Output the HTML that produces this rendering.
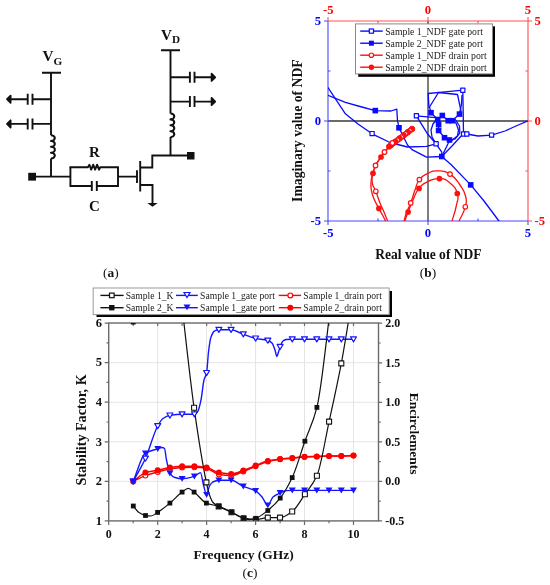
<!DOCTYPE html><html><head><meta charset="utf-8"><title>Figure</title><style>html,body{margin:0;padding:0;background:#fff;}svg{display:block;}text{font-family:'Liberation Serif','Times New Roman',serif;}</style></head><body>
<svg width="550" height="585" viewBox="0 0 550 585">
<rect width="550" height="585" fill="#fff"/>
<g fill="none" stroke="#111" stroke-width="1.9" stroke-linecap="butt">
<path d="M42,72.7 H61 M51,72.7 V135.2 M51,158.5 V176.6"/>
<path d="M51,99.2 H32.5 M27.7,99.2 H9"/>
<path d="M27.7,93.7 V104.7 M32.5,93.7 V104.7"/>
<path d="M51,123.9 H32.5 M27.7,123.9 H9"/>
<path d="M27.7,118.4 V129.4 M32.5,118.4 V129.4"/>
<path d="M161,50.3 H180 M170.5,50.3 V113.5 M170.5,137.1 V155.5"/>
<path d="M170.5,77.3 H189.9 M194.5,77.3 H212"/>
<path d="M189.9,71.8 V82.8 M194.5,71.8 V82.8"/>
<path d="M170.5,101.6 H189.9 M194.5,101.6 H212"/>
<path d="M189.9,96.1 V107.1 M194.5,96.1 V107.1"/>
<path d="M36,176.6 H70.4 M70.4,167.2 V186 H118 V167.2 M118,176.6 H137"/>
<path d="M137,170.3 V183" />
<path d="M140.2,161 V191.5" />
<path d="M140.2,167.5 H152.3 V155.5 H187 M140.2,185 H152.5 V203"/>
</g>
<path d="M51.0,135.2 A3.8,2.9 0 0 1 51.0,141.0 A3.8,2.9 0 0 1 51.0,146.8 A3.8,2.9 0 0 1 51.0,152.7 A3.8,2.9 0 0 1 51.0,158.5" fill="none" stroke="#111" stroke-width="2.1" stroke-linejoin="round"/>
<path d="M170.5,113.5 A3.7,2.9 0 0 1 170.5,119.4 A3.7,2.9 0 0 1 170.5,125.3 A3.7,2.9 0 0 1 170.5,131.2 A3.7,2.9 0 0 1 170.5,137.1" fill="none" stroke="#111" stroke-width="2.1" stroke-linejoin="round"/>
<path d="M69.5,167.2 H87.9 L89.4,164.7 L91.2,169.7 L93.2,164.7 L95.1,169.7 L97.1,164.7 L99,169.7 L100.3,167.2 H118.9" fill="none" stroke="#111" stroke-width="1.9" stroke-linejoin="round"/>
<rect x="92.2" y="183" width="4.2" height="6" fill="#fff"/>
<path d="M91.8,181 V191 M96.8,181 V191" stroke="#111" stroke-width="1.9"/>
<path d="M7,99.2 L10.6,95.6 L10.6,102.8 Z" fill="#111" stroke="#111" stroke-width="1.8" stroke-linejoin="round"/>
<path d="M7,123.9 L10.6,120.3 L10.6,127.5 Z" fill="#111" stroke="#111" stroke-width="1.8" stroke-linejoin="round"/>
<path d="M215.2,77.3 L211.6,73.7 L211.6,80.9 Z" fill="#111" stroke="#111" stroke-width="1.8" stroke-linejoin="round"/>
<path d="M215.2,101.6 L211.6,98.0 L211.6,105.2 Z" fill="#111" stroke="#111" stroke-width="1.8" stroke-linejoin="round"/>
<path d="M147.3,203 H157.7 L152.5,206.8 Z" fill="#111"/>
<rect x="28.2" y="172.8" width="7.8" height="7.8" fill="#111"/>
<rect x="187" y="152" width="7.5" height="7.5" fill="#111"/>
<text x="42.5" y="61.3" font-size="15.2" font-weight="bold" fill="#111">V<tspan font-size="11.2" dy="3.6">G</tspan></text>
<text x="161" y="39.5" font-size="15.2" font-weight="bold" fill="#111">V<tspan font-size="11.2" dy="3.6">D</tspan></text>
<text x="94.5" y="157.3" font-size="15" font-weight="bold" fill="#111" text-anchor="middle">R</text>
<text x="94.5" y="211.3" font-size="15" font-weight="bold" fill="#111" text-anchor="middle">C</text>
<text x="110.9" y="277.2" font-size="13.4" font-weight="bold" fill="#111" text-anchor="middle"><tspan font-weight="normal">(</tspan>a<tspan font-weight="normal">)</tspan></text>
<defs><clipPath id="cb"><rect x="328.0" y="21.0" width="200.0" height="200.0"/></clipPath></defs>
<path d="M328.0,121.0 H528.0 M428.0,21.0 V221.0" stroke="#3a3a3a" stroke-width="1.3" fill="none"/>
<path d="M328.0,21.0 V221.0 H528.0" stroke="#4848ff" stroke-width="1.1" fill="none"/>
<path d="M328.0,21.0 H528.0 V221.0" stroke="#ff5050" stroke-width="1.1" fill="none"/>
<path d="M328.0,221.0 h-4 M328.0,221.0 v4 M328.0,121.0 h-4 M428.0,221.0 v4 M328.0,21.0 h-4 M528.0,221.0 v4 M328.0,171.0 h2.5 M378.0,221.0 v-2.5 M328.0,71.0 h2.5 M478.0,221.0 v-2.5" stroke="#4848ff" stroke-width="1.1" fill="none"/>
<path d="M528.0,221.0 h4 M328.0,21.0 v-4 M528.0,121.0 h4 M428.0,21.0 v-4 M528.0,21.0 h4 M528.0,21.0 v-4 M528.0,171.0 h-2.5 M378.0,21.0 v2.5 M528.0,71.0 h-2.5 M478.0,21.0 v2.5" stroke="#ff5050" stroke-width="1.1" fill="none"/>
<g font-size="12.6" font-weight="bold" fill="#0000ff">
<text x="321.0" y="24.6" text-anchor="end">5</text>
<text x="321.0" y="124.6" text-anchor="end">0</text>
<text x="321.0" y="224.6" text-anchor="end">-5</text>
<text x="328.2" y="237.3" text-anchor="middle">-5</text>
<text x="428.0" y="237.3" text-anchor="middle">0</text>
<text x="528.0" y="237.3" text-anchor="middle">5</text>
</g><g font-size="12.6" font-weight="bold" fill="#ff0000">
<text x="534.6" y="24.6">5</text>
<text x="534.6" y="124.6">0</text>
<text x="534.6" y="224.6">-5</text>
<text x="328.2" y="13.8" text-anchor="middle">-5</text>
<text x="428.0" y="13.8" text-anchor="middle">0</text>
<text x="528.0" y="13.8" text-anchor="middle">5</text>
</g>
<text x="428.4" y="259" font-size="13.55" font-weight="bold" fill="#111" text-anchor="middle">Real value of NDF</text>
<text transform="translate(302.2,130.6) rotate(-90)" font-size="13.7" font-weight="bold" fill="#111" text-anchor="middle">Imaginary value of NDF</text>
<text x="428" y="277.2" font-size="13.4" font-weight="bold" fill="#111" text-anchor="middle"><tspan font-weight="normal">(</tspan>b<tspan font-weight="normal">)</tspan></text>
<g clip-path="url(#cb)" fill="none" stroke-linejoin="round">
<path d="M322.0,80.0 L328.0,87.7 L345.4,113.8 L358.0,124.0 L372.1,133.8 L390.0,142.5 L407.5,147.0 L426.5,146.4 L436.1,143.8" stroke="#0a0aff" stroke-width="1.3"/>
<path d="M416.4,115.8 L427.8,134.3 L436.1,143.8 L441.8,152.1 L441.8,156.5" stroke="#0a0aff" stroke-width="1.3"/>
<path d="M416.4,115.8 L435.5,117.7" stroke="#0a0aff" stroke-width="1.3"/>
<path d="M437.0,119.0 L433.0,124.0 L431.0,130.0 L432.0,137.0 L436.1,143.8" stroke="#0a0aff" stroke-width="1.3"/>
<path d="M429.0,108.0 L428.2,93.5 L445.0,91.8 L462.8,90.2 L463.2,112.0 L463.4,128.0 L463.6,134.0" stroke="#0a0aff" stroke-width="1.3"/>
<path d="M463.6,134.0 L466.8,134.0 L478.0,136.0 L491.6,135.1 L505.0,131.0 L516.0,126.0 L528.0,120.9" stroke="#0a0aff" stroke-width="1.3"/>
<path d="M441.8,156.5 L452.0,146.0 L460.9,136.2 L463.6,134.0" stroke="#0a0aff" stroke-width="1.3"/>
<path d="M322.0,93.0 L328.0,95.4 L345.4,102.4 L360.0,106.5 L375.3,110.6 L391.0,111.0 L396.8,109.2 L397.5,120.7 L399.0,127.8 L407.5,145.0 L412.0,149.6 L426.5,157.2 L441.8,156.5" stroke="#0a0aff" stroke-width="1.3"/>
<path d="M441.8,156.5 L450.7,164.2 L470.7,184.9 L484.0,201.0 L498.2,220.0 L503.0,226.0" stroke="#0a0aff" stroke-width="1.3"/>
<path d="M441.8,156.5 L448.2,143.2 L449.5,140.0 L444.5,137.7 L438.6,130.5 L438.6,124.5 L437.7,119.5 L431.0,112.7 L429.5,107.0 L438.5,92.5 L457.5,94.5 L461.0,111.0 L459.5,114.1 L452.3,120.7 L448.2,120.7 L442.3,115.5" stroke="#0a0aff" stroke-width="1.3"/>
<path d="M452.3,120.7 L456.0,123.0 L458.5,130.0 L457.5,136.0 L452.0,140.0 L449.5,140.0" stroke="#0a0aff" stroke-width="1.3"/>
<path d="M455.0,119.0 L459.5,126.0 L459.8,133.0 L455.0,139.0 L449.5,141.0" stroke="#0a0aff" stroke-width="1.3"/>
<path d="M459.5,114.1 L461.5,104.0 L462.0,95.0" stroke="#0a0aff" stroke-width="1.3"/>
<path d="M412.0,129.0 C410.1,130.2 409.0,130.7 405.0,133.5 C401.0,136.3 400.4,137.0 397.0,139.5 C393.6,142.0 395.6,139.7 392.3,143.0 C389.0,146.3 388.2,147.7 384.8,152.0 C381.4,156.3 381.9,155.4 379.5,159.0 C377.1,162.6 377.7,161.1 375.8,165.4 C373.9,169.7 373.4,170.0 372.5,175.0 C371.6,180.0 371.6,179.7 372.5,184.0 C373.4,188.3 373.8,186.2 375.8,191.3 C377.8,196.4 377.8,197.5 380.0,203.0 C382.2,208.5 381.9,206.9 384.0,212.0 C386.1,217.1 386.9,219.3 388.0,222.0" stroke="#ff1010" stroke-width="1.3"/>
<path d="M412.0,129.0 C410.1,130.2 409.0,130.7 405.0,133.5 C401.0,136.3 401.2,136.0 397.0,139.5 C392.8,143.0 393.5,142.0 389.3,146.6 C385.1,151.2 384.7,151.9 381.2,156.8 C377.7,161.7 378.2,160.6 376.0,165.0 C373.8,169.4 374.3,168.5 373.0,173.3 C371.7,178.1 371.1,177.2 371.0,183.0 C370.9,188.8 370.4,188.2 372.5,195.0 C374.6,201.8 376.2,203.1 378.9,208.4 C381.6,213.7 380.6,211.4 382.5,215.0 C384.4,218.6 385.1,220.1 386.0,222.0" stroke="#ff1010" stroke-width="1.3"/>
<path d="M403.5,224.0 C404.2,221.3 404.1,219.6 406.0,214.0 C407.9,208.4 408.3,209.3 410.7,202.9 C413.1,196.5 412.7,196.2 415.0,190.0 C417.3,183.8 415.9,184.1 419.4,179.6 C422.9,175.1 423.3,175.6 428.0,173.3 C432.7,171.0 431.3,170.7 437.2,170.9 C443.1,171.1 443.9,170.3 450.0,174.1 C456.1,177.9 455.9,179.2 460.0,185.0 C464.1,190.8 464.1,190.2 465.5,196.0 C466.9,201.8 467.0,200.1 465.3,206.8 C463.6,213.5 460.7,217.2 459.0,221.0" stroke="#ff1010" stroke-width="1.3"/>
<path d="M404.5,224.0 C404.8,222.7 404.5,222.2 405.5,219.0 C406.5,215.8 406.1,217.1 408.1,212.0 C410.1,206.9 410.1,206.3 413.0,200.0 C415.9,193.7 415.0,193.3 419.0,188.4 C423.0,183.5 422.6,184.1 428.0,181.5 C433.4,178.9 433.5,178.2 439.4,178.6 C445.3,179.0 445.2,179.0 450.0,183.0 C454.8,187.0 455.6,187.6 457.3,193.5 C459.0,199.4 458.0,197.4 456.5,205.0 C455.0,212.6 453.0,217.5 451.7,222.0" stroke="#ff1010" stroke-width="1.3"/>
<circle cx="412.0" cy="129.0" r="2.8" fill="#ff1010" stroke="#ff1010" stroke-width="1"/>
<circle cx="409.9" cy="130.6" r="2.2" fill="#fff" stroke="#ff1010" stroke-width="1.3"/>
<circle cx="407.8" cy="132.2" r="2.8" fill="#ff1010" stroke="#ff1010" stroke-width="1"/>
<circle cx="405.7" cy="133.8" r="2.2" fill="#fff" stroke="#ff1010" stroke-width="1.3"/>
<circle cx="403.6" cy="135.4" r="2.8" fill="#ff1010" stroke="#ff1010" stroke-width="1"/>
<circle cx="401.5" cy="137.0" r="2.2" fill="#fff" stroke="#ff1010" stroke-width="1.3"/>
<circle cx="399.5" cy="138.5" r="2.8" fill="#ff1010" stroke="#ff1010" stroke-width="1"/>
<circle cx="397.4" cy="140.1" r="2.2" fill="#fff" stroke="#ff1010" stroke-width="1.3"/>
<circle cx="395.3" cy="141.7" r="2.8" fill="#ff1010" stroke="#ff1010" stroke-width="1"/>
<circle cx="393.2" cy="143.3" r="2.2" fill="#fff" stroke="#ff1010" stroke-width="1.3"/>
<circle cx="391.1" cy="144.9" r="2.8" fill="#ff1010" stroke="#ff1010" stroke-width="1"/>
<circle cx="389.0" cy="146.5" r="2.2" fill="#fff" stroke="#ff1010" stroke-width="1.3"/>
<circle cx="392.3" cy="143.0" r="2.3" fill="#fff" stroke="#ff1010" stroke-width="1.2"/>
<circle cx="384.5" cy="152.0" r="2.3" fill="#fff" stroke="#ff1010" stroke-width="1.2"/>
<circle cx="375.5" cy="165.5" r="2.3" fill="#fff" stroke="#ff1010" stroke-width="1.2"/>
<circle cx="375.8" cy="191.3" r="2.3" fill="#fff" stroke="#ff1010" stroke-width="1.2"/>
<circle cx="410.7" cy="202.9" r="2.3" fill="#fff" stroke="#ff1010" stroke-width="1.2"/>
<circle cx="419.4" cy="179.6" r="2.3" fill="#fff" stroke="#ff1010" stroke-width="1.2"/>
<circle cx="450.0" cy="174.1" r="2.3" fill="#fff" stroke="#ff1010" stroke-width="1.2"/>
<circle cx="465.3" cy="206.8" r="2.3" fill="#fff" stroke="#ff1010" stroke-width="1.2"/>
<circle cx="389.3" cy="146.6" r="2.85" fill="#ff1010"/>
<circle cx="381.0" cy="157.0" r="2.85" fill="#ff1010"/>
<circle cx="373.0" cy="173.3" r="2.85" fill="#ff1010"/>
<circle cx="378.9" cy="208.4" r="2.85" fill="#ff1010"/>
<circle cx="408.1" cy="212.0" r="2.85" fill="#ff1010"/>
<circle cx="419.0" cy="188.4" r="2.85" fill="#ff1010"/>
<circle cx="439.4" cy="178.6" r="2.85" fill="#ff1010"/>
<circle cx="457.3" cy="193.5" r="2.85" fill="#ff1010"/>
<rect x="370.0" y="131.5" width="4.2" height="4.2" fill="#fff" stroke="#0a0aff" stroke-width="1.2"/>
<rect x="414.3" y="113.7" width="4.2" height="4.2" fill="#fff" stroke="#0a0aff" stroke-width="1.2"/>
<rect x="460.7" y="88.1" width="4.2" height="4.2" fill="#fff" stroke="#0a0aff" stroke-width="1.2"/>
<rect x="461.5" y="131.9" width="4.2" height="4.2" fill="#fff" stroke="#0a0aff" stroke-width="1.2"/>
<rect x="464.7" y="131.9" width="4.2" height="4.2" fill="#fff" stroke="#0a0aff" stroke-width="1.2"/>
<rect x="434.0" y="141.7" width="4.2" height="4.2" fill="#fff" stroke="#0a0aff" stroke-width="1.2"/>
<rect x="489.5" y="133.0" width="4.2" height="4.2" fill="#fff" stroke="#0a0aff" stroke-width="1.2"/>
<rect x="372.5" y="107.8" width="5.6" height="5.6" fill="#0a0aff"/>
<rect x="396.2" y="125.0" width="5.6" height="5.6" fill="#0a0aff"/>
<rect x="439.0" y="153.7" width="5.6" height="5.6" fill="#0a0aff"/>
<rect x="467.9" y="182.1" width="5.6" height="5.6" fill="#0a0aff"/>
<rect x="428.2" y="109.9" width="5.6" height="5.6" fill="#0a0aff"/>
<rect x="439.5" y="112.7" width="5.6" height="5.6" fill="#0a0aff"/>
<rect x="456.7" y="111.3" width="5.6" height="5.6" fill="#0a0aff"/>
<rect x="434.9" y="116.7" width="5.6" height="5.6" fill="#0a0aff"/>
<rect x="445.4" y="117.9" width="5.6" height="5.6" fill="#0a0aff"/>
<rect x="449.5" y="117.9" width="5.6" height="5.6" fill="#0a0aff"/>
<rect x="435.8" y="121.7" width="5.6" height="5.6" fill="#0a0aff"/>
<rect x="435.8" y="127.7" width="5.6" height="5.6" fill="#0a0aff"/>
<rect x="441.7" y="134.9" width="5.6" height="5.6" fill="#0a0aff"/>
<rect x="446.7" y="137.2" width="5.6" height="5.6" fill="#0a0aff"/>
</g>
<rect x="358.2" y="26.3" width="136.8" height="50.5" fill="#000"/>
<rect x="355.5" y="23.9" width="137" height="50" fill="#fff" stroke="#8a8a8a" stroke-width="1"/>
<path d="M360.2,31.1 H382.7" stroke="#0a0aff" stroke-width="1.4"/>
<rect x="369.3" y="29.0" width="4.2" height="4.2" fill="#fff" stroke="#0a0aff" stroke-width="1.2"/>
<text x="385.2" y="34.5" font-size="9.75" fill="#222">Sample 1_NDF gate port</text>
<path d="M360.2,43.2 H382.7" stroke="#0a0aff" stroke-width="1.4"/>
<rect x="368.9" y="40.7" width="5" height="5" fill="#0a0aff"/>
<text x="385.2" y="46.6" font-size="9.75" fill="#222">Sample 2_NDF gate port</text>
<path d="M360.2,55.2 H382.7" stroke="#ff1010" stroke-width="1.4"/>
<circle cx="371.4" cy="55.2" r="2.2" fill="#fff" stroke="#ff1010" stroke-width="1.2"/>
<text x="385.2" y="58.6" font-size="9.75" fill="#222">Sample 1_NDF drain port</text>
<path d="M360.2,67.2 H382.7" stroke="#ff1010" stroke-width="1.4"/>
<circle cx="371.4" cy="67.2" r="2.7" fill="#ff1010"/>
<text x="385.2" y="70.6" font-size="9.75" fill="#222">Sample 2_NDF drain port</text>
<defs><clipPath id="cc"><rect x="108.7" y="323.0" width="269.8" height="197.9"/></clipPath></defs>
<path d="M157.7,323.0 V520.9 M206.6,323.0 V520.9 M255.6,323.0 V520.9 M304.5,323.0 V520.9 M353.5,323.0 V520.9 M108.7,481.3 H378.5 M108.7,441.8 H378.5 M108.7,402.2 H378.5 M108.7,362.7 H378.5" stroke="#e4e4e4" stroke-width="1" fill="none"/>
<rect x="108.7" y="323.0" width="269.8" height="197.9" fill="none" stroke="#6a6a6a" stroke-width="1.4"/>
<path d="M108.7,520.9 h-4 M108.7,481.3 h-4 M108.7,441.8 h-4 M108.7,402.2 h-4 M108.7,362.7 h-4 M108.7,323.1 h-4 M108.7,501.1 h-2.2 M108.7,461.6 h-2.2 M108.7,422.0 h-2.2 M108.7,382.4 h-2.2 M108.7,342.9 h-2.2 M108.7,520.9 v4 M157.7,520.9 v4 M206.6,520.9 v4 M255.6,520.9 v4 M304.5,520.9 v4 M353.5,520.9 v4 M133.2,520.9 v2.4 M182.1,520.9 v2.4 M231.1,520.9 v2.4 M280.1,520.9 v2.4 M329.0,520.9 v2.4 M133.2,323.0 v3 M157.7,323.0 v3 M182.1,323.0 v3 M206.6,323.0 v3 M231.1,323.0 v3 M255.6,323.0 v3 M280.1,323.0 v3 M304.5,323.0 v3 M329.0,323.0 v3 M353.5,323.0 v3 M378.5,520.9 h3.6 M378.5,481.4 h3.6 M378.5,441.8 h3.6 M378.5,402.3 h3.6 M378.5,362.8 h3.6 M378.5,323.2 h3.6 M378.5,501.2 h2.2 M378.5,461.6 h2.2 M378.5,422.1 h2.2 M378.5,382.5 h2.2 M378.5,343.0 h2.2" stroke="#6a6a6a" stroke-width="1.2" fill="none"/>
<g font-size="12" font-weight="bold" fill="#111">
<text x="102" y="524.6" text-anchor="end" font-size="12.5">1</text>
<text x="102" y="485.0" text-anchor="end" font-size="12.5">2</text>
<text x="102" y="445.5" text-anchor="end" font-size="12.5">3</text>
<text x="102" y="405.9" text-anchor="end" font-size="12.5">4</text>
<text x="102" y="366.4" text-anchor="end" font-size="12.5">5</text>
<text x="102" y="326.8" text-anchor="end" font-size="12.5">6</text>
<text x="108.7" y="537.6" text-anchor="middle">0</text>
<text x="157.7" y="537.6" text-anchor="middle">2</text>
<text x="206.6" y="537.6" text-anchor="middle">4</text>
<text x="255.6" y="537.6" text-anchor="middle">6</text>
<text x="304.5" y="537.6" text-anchor="middle">8</text>
<text x="353.5" y="537.6" text-anchor="middle">10</text>
<text x="385.3" y="524.7">-0.5</text>
<text x="385.3" y="485.2">0.0</text>
<text x="385.3" y="445.6">0.5</text>
<text x="385.3" y="406.1">1.0</text>
<text x="385.3" y="366.6">1.5</text>
<text x="385.3" y="327.0">2.0</text>
</g>
<text x="243.6" y="558.6" font-size="13.45" font-weight="bold" fill="#111" text-anchor="middle">Frequency (GHz)</text>
<text x="250" y="576.8" font-size="13.4" font-weight="bold" fill="#111" text-anchor="middle"><tspan font-weight="normal">(</tspan>c<tspan font-weight="normal">)</tspan></text>
<text transform="translate(86.0,429.9) rotate(-90)" font-size="14.1" font-weight="bold" fill="#111" text-anchor="middle">Stability Factor, K</text>
<text transform="translate(409.9,433.6) rotate(90)" font-size="13.4" font-weight="bold" fill="#111" text-anchor="middle">Encirclements</text>
<g clip-path="url(#cc)" fill="none" stroke-linejoin="round">
<path d="M133.2,481.4 C137.3,479.5 141.3,477.1 145.4,475.6 C149.5,474.1 153.6,473.1 157.7,472.0 C161.8,470.9 165.8,469.7 169.9,469.0 C174.0,468.3 178.0,467.6 182.1,467.5 C186.2,467.4 190.3,467.3 194.4,467.3 C198.5,467.3 202.5,467.7 206.6,468.3 C210.7,468.9 214.8,473.9 218.9,474.5 C223.0,475.1 227.0,475.6 231.1,475.6 C235.2,475.6 239.2,473.0 243.3,471.5 C247.4,470.0 251.5,467.9 255.6,466.2 C259.7,464.5 263.7,462.5 267.8,461.5 C271.9,460.5 276.0,459.8 280.1,459.3 C284.2,458.8 288.2,458.6 292.3,458.2 C296.4,457.8 300.4,457.2 304.5,457.0 C308.6,456.8 312.7,456.7 316.8,456.6 C320.9,456.5 324.9,456.2 329.0,456.1 C333.1,456.0 337.2,456.1 341.3,456.0 C345.4,455.9 349.4,455.7 353.5,455.6" stroke="#e00" stroke-width="1.5"/>
<path d="M133.2,481.4 C137.3,478.5 141.3,473.8 145.4,472.6 C149.5,471.4 153.6,471.1 157.7,470.3 C161.8,469.5 165.8,468.1 169.9,467.5 C174.0,466.9 178.0,466.3 182.1,466.3 C186.2,466.3 190.3,466.3 194.4,466.3 C198.5,466.3 202.5,466.9 206.6,467.5 C210.7,468.2 214.8,471.9 218.9,472.6 C223.0,473.3 227.0,473.9 231.1,473.9 C235.2,473.9 239.2,471.8 243.3,470.5 C247.4,469.2 251.5,467.2 255.6,465.6 C259.7,464.0 263.7,462.0 267.8,461.1 C271.9,460.1 276.0,459.5 280.1,459.0 C284.2,458.5 288.2,458.4 292.3,458.0 C296.4,457.6 300.4,457.0 304.5,456.8 C308.6,456.6 312.7,456.6 316.8,456.5 C320.9,456.4 324.9,456.0 329.0,456.0 C333.1,456.0 337.2,456.0 341.3,456.0 C345.4,456.0 349.4,455.7 353.5,455.5" stroke="#f00" stroke-width="1.5"/>
<path d="M133.2,481.4 C137.3,473.8 141.3,467.4 145.4,458.5 C149.5,449.5 153.6,433.3 157.7,426.0 C159.5,422.9 161.2,419.7 163.0,418.5 C165.3,416.9 167.6,415.8 169.9,415.4 C174.0,414.7 178.0,414.2 182.1,414.2 C186.2,414.2 190.3,414.2 194.4,414.2 C195.6,414.2 196.8,412.7 198.0,411.0 C199.0,409.5 200.0,404.7 201.0,400.0 C202.0,395.3 203.0,383.8 204.0,380.0 C204.9,376.7 205.7,376.8 206.6,372.9 C207.2,370.0 207.9,357.0 208.5,352.0 C209.3,345.4 210.2,339.3 211.0,337.0 C212.2,333.8 213.3,331.6 214.5,331.0 C216.0,330.2 217.4,329.7 218.9,329.7 C223.0,329.7 227.0,329.7 231.1,329.7 C235.2,329.7 239.2,332.8 243.3,334.2 C247.4,335.7 251.5,337.5 255.6,338.4 C259.7,339.3 263.7,339.3 267.8,340.5 C269.2,340.9 270.6,341.6 272.0,343.0 C273.0,344.0 274.0,347.2 275.0,350.0 C275.6,351.8 276.3,356.5 276.9,356.5 C277.4,356.5 278.0,353.6 278.5,352.0 C279.0,350.4 279.6,348.2 280.1,346.8 C281.1,344.4 282.0,341.8 283.0,341.0 C284.0,340.2 285.0,339.6 286.0,339.5 C288.1,339.3 290.2,339.2 292.3,339.2 C296.4,339.2 300.4,339.2 304.5,339.2 C308.6,339.2 312.7,339.2 316.8,339.2 C320.9,339.2 324.9,339.2 329.0,339.2 C333.1,339.2 337.2,339.2 341.3,339.2 C345.4,339.2 349.4,339.2 353.5,339.2" stroke="#1414ff" stroke-width="1.4"/>
<path d="M133.2,481.4 C137.3,472.0 141.3,455.7 145.4,453.2 C149.5,450.7 153.6,450.3 157.7,448.9 C159.1,448.4 160.6,447.5 162.0,447.5 C162.8,447.5 163.7,447.9 164.5,448.5 C165.2,449.0 165.8,456.8 166.5,460.0 C167.6,465.4 168.8,471.7 169.9,473.3 C171.6,475.7 173.3,477.0 175.0,477.5 C177.4,478.2 179.7,478.7 182.1,478.7 C186.2,478.7 190.3,477.7 194.4,476.4 C195.6,476.0 196.8,474.7 198.0,474.0 C198.8,473.5 199.7,472.6 200.5,472.6 C201.5,472.6 202.5,481.4 203.5,485.0 C204.5,488.7 205.6,494.7 206.6,494.7 C207.6,494.7 208.5,487.7 209.5,486.0 C210.6,484.1 211.7,482.6 212.8,482.0 C214.8,481.0 216.9,480.2 218.9,480.2 C223.0,480.2 227.0,480.2 231.1,480.2 C235.2,480.2 239.2,484.6 243.3,486.3 C247.4,488.1 251.5,488.6 255.6,490.9 C257.7,492.1 259.9,494.6 262.0,497.0 C263.9,499.2 265.9,505.2 267.8,505.2 C269.5,505.2 271.3,498.5 273.0,497.0 C275.4,495.0 277.7,494.0 280.1,492.9 C282.1,492.0 284.0,490.7 286.0,490.6 C288.1,490.5 290.2,490.4 292.3,490.4 C296.4,490.4 300.4,490.4 304.5,490.4 C308.6,490.4 312.7,490.4 316.8,490.4 C320.9,490.4 324.9,490.4 329.0,490.4 C333.1,490.4 337.2,490.4 341.3,490.4 C345.4,490.4 349.4,490.4 353.5,490.4" stroke="#1414ff" stroke-width="1.4"/>
<path d="M169.9,200.0 C174.0,235.7 178.0,272.1 182.1,307.0 C186.1,341.3 190.1,379.6 194.1,407.8 C198.2,436.7 202.3,463.2 206.4,482.4 C207.4,487.2 208.5,492.1 209.5,495.0 C210.7,498.3 211.8,501.2 213.0,502.5 C214.9,504.6 216.8,505.3 218.7,506.4 C223.0,508.8 227.2,510.2 231.5,512.2 C235.5,514.1 239.6,517.5 243.6,518.2 C247.7,518.9 251.7,519.5 255.8,519.5 C259.8,519.5 263.8,517.6 267.8,517.6 C271.9,517.6 275.9,517.6 280.0,517.6 C284.1,517.6 288.1,514.5 292.2,511.5 C296.4,508.4 300.7,500.3 304.9,494.2 C308.9,488.4 312.9,484.9 316.9,475.8 C321.0,466.5 325.0,440.3 329.1,421.6 C333.2,402.9 337.2,385.0 341.3,363.4 C345.4,341.8 349.4,314.5 353.5,290.0" stroke="#111" stroke-width="1.2"/>
<path d="M133.3,506.0 C135.2,508.2 137.1,511.2 139.0,512.5 C141.2,513.9 143.3,515.2 145.5,515.5 C147.3,515.8 149.2,516.0 151.0,516.0 C153.2,516.0 155.4,513.8 157.6,512.4 C161.7,509.8 165.8,506.5 169.9,503.1 C174.0,499.8 178.0,495.0 182.1,492.1 C184.2,490.6 186.2,488.4 188.3,488.4 C190.2,488.4 192.2,490.7 194.1,492.1 C198.2,495.1 202.3,501.4 206.4,503.1 C210.5,504.8 214.6,505.0 218.7,506.4 C223.0,507.8 227.2,510.2 231.5,512.2 C235.5,514.1 239.6,517.0 243.6,518.2 C245.6,518.8 247.5,519.6 249.5,519.6 C251.6,519.6 253.7,518.9 255.8,518.3 C259.8,517.1 263.8,513.6 267.8,510.5 C271.9,507.2 276.1,503.3 280.2,498.1 C284.2,493.0 288.2,486.1 292.2,477.6 C296.4,468.6 300.7,453.2 304.9,441.2 C308.9,429.8 312.9,423.7 316.9,407.4 C321.0,390.9 325.0,351.9 329.1,318.0 C333.2,284.1 337.2,239.3 341.3,200.0" stroke="#111" stroke-width="1.2"/>
<circle cx="145.4" cy="475.6" r="2.4" fill="#fff" stroke="#f00" stroke-width="1.1"/>
<circle cx="157.7" cy="472.0" r="2.4" fill="#fff" stroke="#f00" stroke-width="1.1"/>
<circle cx="169.9" cy="469.0" r="2.4" fill="#fff" stroke="#f00" stroke-width="1.1"/>
<circle cx="182.1" cy="467.5" r="2.4" fill="#fff" stroke="#f00" stroke-width="1.1"/>
<circle cx="194.4" cy="467.3" r="2.4" fill="#fff" stroke="#f00" stroke-width="1.1"/>
<circle cx="206.6" cy="468.3" r="2.4" fill="#fff" stroke="#f00" stroke-width="1.1"/>
<circle cx="218.9" cy="474.5" r="2.4" fill="#fff" stroke="#f00" stroke-width="1.1"/>
<circle cx="231.1" cy="475.6" r="2.4" fill="#fff" stroke="#f00" stroke-width="1.1"/>
<circle cx="243.3" cy="471.5" r="2.4" fill="#fff" stroke="#f00" stroke-width="1.1"/>
<circle cx="255.6" cy="466.2" r="2.4" fill="#fff" stroke="#f00" stroke-width="1.1"/>
<circle cx="267.8" cy="461.5" r="2.4" fill="#fff" stroke="#f00" stroke-width="1.1"/>
<circle cx="280.1" cy="459.3" r="2.4" fill="#fff" stroke="#f00" stroke-width="1.1"/>
<circle cx="292.3" cy="458.2" r="2.4" fill="#fff" stroke="#f00" stroke-width="1.1"/>
<circle cx="304.5" cy="457.0" r="2.4" fill="#fff" stroke="#f00" stroke-width="1.1"/>
<circle cx="316.8" cy="456.6" r="2.4" fill="#fff" stroke="#f00" stroke-width="1.1"/>
<circle cx="329.0" cy="456.1" r="2.4" fill="#fff" stroke="#f00" stroke-width="1.1"/>
<circle cx="341.3" cy="456.0" r="2.4" fill="#fff" stroke="#f00" stroke-width="1.1"/>
<circle cx="353.5" cy="455.6" r="2.4" fill="#fff" stroke="#f00" stroke-width="1.1"/>
<circle cx="133.2" cy="481.4" r="3" fill="#f00"/>
<circle cx="145.4" cy="472.6" r="3" fill="#f00"/>
<circle cx="157.7" cy="470.3" r="3" fill="#f00"/>
<circle cx="169.9" cy="467.5" r="3" fill="#f00"/>
<circle cx="182.1" cy="466.3" r="3" fill="#f00"/>
<circle cx="194.4" cy="466.3" r="3" fill="#f00"/>
<circle cx="206.6" cy="467.5" r="3" fill="#f00"/>
<circle cx="218.9" cy="472.6" r="3" fill="#f00"/>
<circle cx="231.1" cy="473.9" r="3" fill="#f00"/>
<circle cx="243.3" cy="470.5" r="3" fill="#f00"/>
<circle cx="255.6" cy="465.6" r="3" fill="#f00"/>
<circle cx="267.8" cy="461.1" r="3" fill="#f00"/>
<circle cx="280.1" cy="459.0" r="3" fill="#f00"/>
<circle cx="292.3" cy="458.0" r="3" fill="#f00"/>
<circle cx="304.5" cy="456.8" r="3" fill="#f00"/>
<circle cx="316.8" cy="456.5" r="3" fill="#f00"/>
<circle cx="329.0" cy="456.0" r="3" fill="#f00"/>
<circle cx="341.3" cy="456.0" r="3" fill="#f00"/>
<circle cx="353.5" cy="455.5" r="3" fill="#f00"/>
<path d="M130.2,479.0 L136.2,479.0 L133.2,484.1 Z" fill="#fff" stroke="#1414ff" stroke-width="1.2"/>
<path d="M142.4,456.1 L148.4,456.1 L145.4,461.2 Z" fill="#fff" stroke="#1414ff" stroke-width="1.2"/>
<path d="M154.7,423.6 L160.7,423.6 L157.7,428.7 Z" fill="#fff" stroke="#1414ff" stroke-width="1.2"/>
<path d="M166.9,413.0 L172.9,413.0 L169.9,418.1 Z" fill="#fff" stroke="#1414ff" stroke-width="1.2"/>
<path d="M179.1,411.8 L185.1,411.8 L182.1,416.9 Z" fill="#fff" stroke="#1414ff" stroke-width="1.2"/>
<path d="M191.4,411.8 L197.4,411.8 L194.4,416.9 Z" fill="#fff" stroke="#1414ff" stroke-width="1.2"/>
<path d="M203.6,370.5 L209.6,370.5 L206.6,375.6 Z" fill="#fff" stroke="#1414ff" stroke-width="1.2"/>
<path d="M215.9,327.3 L221.9,327.3 L218.9,332.4 Z" fill="#fff" stroke="#1414ff" stroke-width="1.2"/>
<path d="M228.1,327.3 L234.1,327.3 L231.1,332.4 Z" fill="#fff" stroke="#1414ff" stroke-width="1.2"/>
<path d="M240.3,331.8 L246.3,331.8 L243.3,336.9 Z" fill="#fff" stroke="#1414ff" stroke-width="1.2"/>
<path d="M252.6,336.0 L258.6,336.0 L255.6,341.1 Z" fill="#fff" stroke="#1414ff" stroke-width="1.2"/>
<path d="M264.8,338.1 L270.8,338.1 L267.8,343.2 Z" fill="#fff" stroke="#1414ff" stroke-width="1.2"/>
<path d="M277.1,344.4 L283.1,344.4 L280.1,349.5 Z" fill="#fff" stroke="#1414ff" stroke-width="1.2"/>
<path d="M289.3,336.8 L295.3,336.8 L292.3,341.9 Z" fill="#fff" stroke="#1414ff" stroke-width="1.2"/>
<path d="M301.5,336.8 L307.5,336.8 L304.5,341.9 Z" fill="#fff" stroke="#1414ff" stroke-width="1.2"/>
<path d="M313.8,336.8 L319.8,336.8 L316.8,341.9 Z" fill="#fff" stroke="#1414ff" stroke-width="1.2"/>
<path d="M326.0,336.8 L332.0,336.8 L329.0,341.9 Z" fill="#fff" stroke="#1414ff" stroke-width="1.2"/>
<path d="M338.3,336.8 L344.3,336.8 L341.3,341.9 Z" fill="#fff" stroke="#1414ff" stroke-width="1.2"/>
<path d="M350.5,336.8 L356.5,336.8 L353.5,341.9 Z" fill="#fff" stroke="#1414ff" stroke-width="1.2"/>
<path d="M129.7,478.6 L136.7,478.6 L133.2,484.5 Z" fill="#1414ff"/>
<path d="M141.9,450.4 L148.9,450.4 L145.4,456.3 Z" fill="#1414ff"/>
<path d="M154.2,446.1 L161.2,446.1 L157.7,452.0 Z" fill="#1414ff"/>
<path d="M166.4,470.5 L173.4,470.5 L169.9,476.4 Z" fill="#1414ff"/>
<path d="M178.6,475.9 L185.6,475.9 L182.1,481.8 Z" fill="#1414ff"/>
<path d="M190.9,473.6 L197.9,473.6 L194.4,479.5 Z" fill="#1414ff"/>
<path d="M203.1,491.9 L210.1,491.9 L206.6,497.8 Z" fill="#1414ff"/>
<path d="M215.4,477.4 L222.4,477.4 L218.9,483.3 Z" fill="#1414ff"/>
<path d="M227.6,477.4 L234.6,477.4 L231.1,483.3 Z" fill="#1414ff"/>
<path d="M239.8,483.5 L246.8,483.5 L243.3,489.4 Z" fill="#1414ff"/>
<path d="M252.1,488.1 L259.1,488.1 L255.6,494.0 Z" fill="#1414ff"/>
<path d="M264.3,502.4 L271.3,502.4 L267.8,508.3 Z" fill="#1414ff"/>
<path d="M276.6,490.1 L283.6,490.1 L280.1,496.0 Z" fill="#1414ff"/>
<path d="M288.8,487.6 L295.8,487.6 L292.3,493.5 Z" fill="#1414ff"/>
<path d="M301.0,487.6 L308.0,487.6 L304.5,493.5 Z" fill="#1414ff"/>
<path d="M313.3,487.6 L320.3,487.6 L316.8,493.5 Z" fill="#1414ff"/>
<path d="M325.5,487.6 L332.5,487.6 L329.0,493.5 Z" fill="#1414ff"/>
<path d="M337.8,487.6 L344.8,487.6 L341.3,493.5 Z" fill="#1414ff"/>
<path d="M350.0,487.6 L357.0,487.6 L353.5,493.5 Z" fill="#1414ff"/>
<rect x="167.4" y="197.5" width="5" height="5" fill="#fff" stroke="#111" stroke-width="1.1"/>
<rect x="179.6" y="304.5" width="5" height="5" fill="#fff" stroke="#111" stroke-width="1.1"/>
<rect x="191.6" y="405.3" width="5" height="5" fill="#fff" stroke="#111" stroke-width="1.1"/>
<rect x="203.9" y="479.9" width="5" height="5" fill="#fff" stroke="#111" stroke-width="1.1"/>
<rect x="216.2" y="503.9" width="5" height="5" fill="#fff" stroke="#111" stroke-width="1.1"/>
<rect x="229.0" y="509.7" width="5" height="5" fill="#fff" stroke="#111" stroke-width="1.1"/>
<rect x="241.1" y="515.7" width="5" height="5" fill="#fff" stroke="#111" stroke-width="1.1"/>
<rect x="253.3" y="517.0" width="5" height="5" fill="#fff" stroke="#111" stroke-width="1.1"/>
<rect x="265.3" y="515.1" width="5" height="5" fill="#fff" stroke="#111" stroke-width="1.1"/>
<rect x="277.5" y="515.1" width="5" height="5" fill="#fff" stroke="#111" stroke-width="1.1"/>
<rect x="289.7" y="509.0" width="5" height="5" fill="#fff" stroke="#111" stroke-width="1.1"/>
<rect x="302.4" y="491.7" width="5" height="5" fill="#fff" stroke="#111" stroke-width="1.1"/>
<rect x="314.4" y="473.3" width="5" height="5" fill="#fff" stroke="#111" stroke-width="1.1"/>
<rect x="326.6" y="419.1" width="5" height="5" fill="#fff" stroke="#111" stroke-width="1.1"/>
<rect x="338.8" y="360.9" width="5" height="5" fill="#fff" stroke="#111" stroke-width="1.1"/>
<rect x="351.0" y="287.5" width="5" height="5" fill="#fff" stroke="#111" stroke-width="1.1"/>
<rect x="130.8" y="319.5" width="4.8" height="5" fill="#111"/>
<rect x="130.9" y="503.6" width="4.8" height="4.8" fill="#111"/>
<rect x="143.1" y="513.1" width="4.8" height="4.8" fill="#111"/>
<rect x="155.2" y="510.0" width="4.8" height="4.8" fill="#111"/>
<rect x="167.5" y="500.7" width="4.8" height="4.8" fill="#111"/>
<rect x="179.7" y="489.7" width="4.8" height="4.8" fill="#111"/>
<rect x="191.7" y="489.7" width="4.8" height="4.8" fill="#111"/>
<rect x="204.0" y="500.7" width="4.8" height="4.8" fill="#111"/>
<rect x="216.3" y="504.0" width="4.8" height="4.8" fill="#111"/>
<rect x="229.1" y="509.8" width="4.8" height="4.8" fill="#111"/>
<rect x="241.2" y="515.8" width="4.8" height="4.8" fill="#111"/>
<rect x="253.4" y="515.9" width="4.8" height="4.8" fill="#111"/>
<rect x="265.4" y="508.1" width="4.8" height="4.8" fill="#111"/>
<rect x="277.8" y="495.7" width="4.8" height="4.8" fill="#111"/>
<rect x="289.8" y="475.2" width="4.8" height="4.8" fill="#111"/>
<rect x="302.5" y="438.8" width="4.8" height="4.8" fill="#111"/>
<rect x="314.5" y="405.0" width="4.8" height="4.8" fill="#111"/>
<rect x="326.7" y="315.6" width="4.8" height="4.8" fill="#111"/>
<rect x="338.9" y="197.6" width="4.8" height="4.8" fill="#111"/>
</g>
<rect x="96.5" y="291" width="295.5" height="26" fill="#000"/>
<rect x="93.2" y="288" width="296" height="26.6" fill="#fff" stroke="#9a9a9a" stroke-width="1"/>
<path d="M100.4,295.4 H123.6" stroke="#111" stroke-width="1.4"/>
<rect x="109.5" y="293.1" width="4.6" height="4.6" fill="#fff" stroke="#111" stroke-width="1.2"/>
<text x="125.7" y="298.7" font-size="9.65" fill="#222">Sample 1_K</text>
<path d="M100.4,307.7 H123.6" stroke="#111" stroke-width="1.4"/>
<rect x="109.1" y="305.0" width="5.4" height="5.4" fill="#111"/>
<text x="125.7" y="311.0" font-size="9.65" fill="#222">Sample 2_K</text>
<path d="M176.0,295.4 H197.8" stroke="#1414ff" stroke-width="1.4"/>
<path d="M184.0,292.5 L190.0,292.5 L187.0,297.6 Z" fill="#fff" stroke="#1414ff" stroke-width="1.2"/>
<text x="200.1" y="298.7" font-size="9.65" fill="#222">Sample 1_gate port</text>
<path d="M176.0,307.7 H197.8" stroke="#1414ff" stroke-width="1.4"/>
<path d="M183.5,304.4 L190.5,304.4 L187.0,310.3 Z" fill="#1414ff"/>
<text x="200.1" y="311.0" font-size="9.65" fill="#222">Sample 1_gate port</text>
<path d="M278.8,295.4 H301.1" stroke="#f00" stroke-width="1.4"/>
<circle cx="290.3" cy="295.4" r="2.4" fill="#fff" stroke="#f00" stroke-width="1.2"/>
<text x="303.3" y="298.7" font-size="9.65" fill="#222">Sample 1_drain port</text>
<path d="M278.8,307.7 H301.1" stroke="#f00" stroke-width="1.4"/>
<circle cx="290.3" cy="307.7" r="3" fill="#f00"/>
<text x="303.3" y="311.0" font-size="9.65" fill="#222">Sample 2_drain port</text>
</svg></body></html>
